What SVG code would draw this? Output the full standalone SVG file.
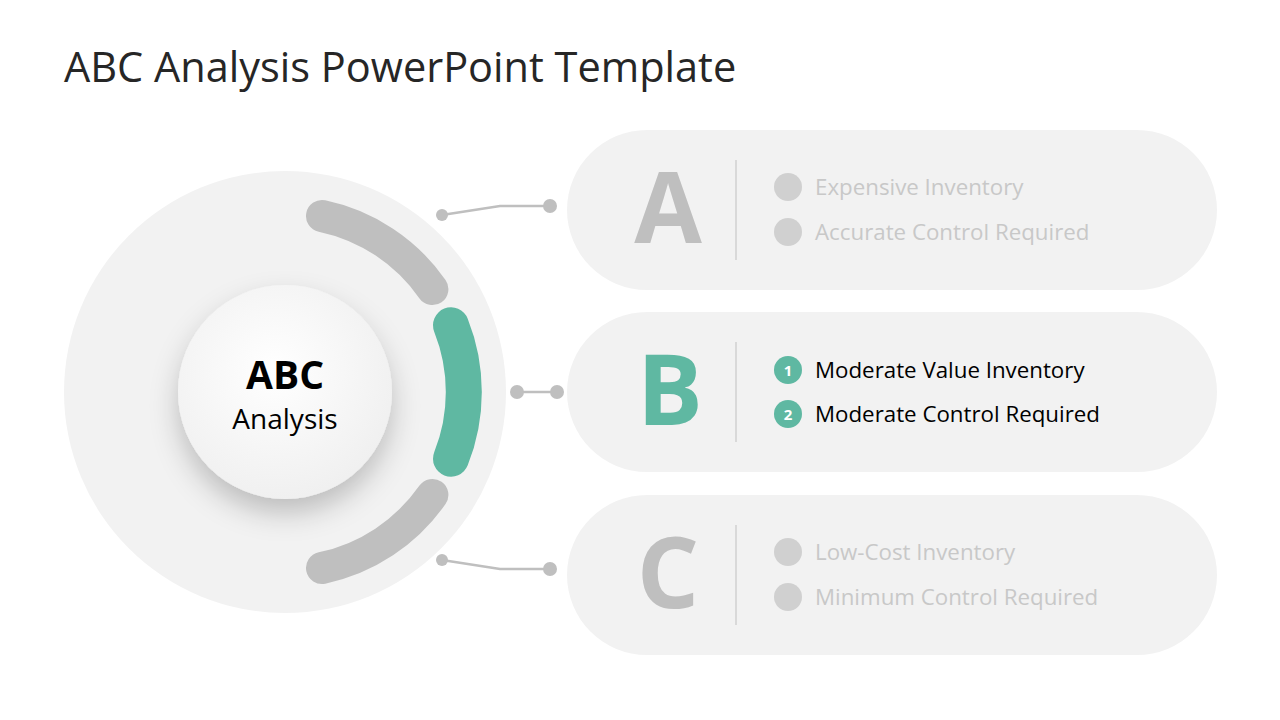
<svg xmlns="http://www.w3.org/2000/svg" width="1280" height="720" viewBox="0 0 1280 720">
<style>
text{font-family:"Open Sans","Noto Sans",sans-serif}
.pill{fill:#f2f2f2}
.arc{fill:none;stroke:#bfbfbf;stroke-width:32;stroke-linecap:round}
.conn{fill:none;stroke:#bfbfbf;stroke-width:2.5}
.dot{fill:#bfbfbf}
.div{stroke:#d0d0d0;stroke-width:1.5}
.big{font-size:98px;font-weight:bold;text-anchor:middle}
.item{font-size:22.3px}
.gray{fill:#c8c8c8}
</style>
<defs>
<filter id="sh" x="-50%" y="-50%" width="200%" height="200%">
<feDropShadow dx="0" dy="14" stdDeviation="14" flood-color="#000" flood-opacity="0.22"/>
</filter>
<radialGradient id="ig" cx="0.45" cy="0.4" r="0.6"><stop offset="0" stop-color="#ffffff"/><stop offset="1" stop-color="#f0f0f0"/></radialGradient>
</defs>
<rect width="1280" height="720" fill="#fff"/>
<text x="64" y="82" font-size="41.5" fill="#262626">ABC Analysis PowerPoint Template</text>
<g id="hub">
<circle cx="285" cy="392" r="221" fill="#f2f2f2"/>
<path class="arc" d="M322.0,216.0 A180 180 0 0 1 432.4,289.1"/>
<path class="arc" style="stroke:#5fb8a2;stroke-width:36" d="M451.0,325.3 A180 180 0 0 1 451.0,458.7"/>
<path class="arc" d="M432.4,494.9 A180 180 0 0 1 322.0,568.0"/>
<circle cx="285" cy="392" r="107" fill="url(#ig)" filter="url(#sh)"/>
<text x="285" y="389" font-size="39" font-weight="bold" text-anchor="middle" fill="#000">ABC</text>
<text x="285" y="429" font-size="28" text-anchor="middle" fill="#000">Analysis</text>
</g>
<g id="connectors">
<polyline class="conn" points="442,215 500,206 550,206"/>
<circle class="dot" cx="442" cy="215" r="6"/><circle class="dot" cx="550" cy="206" r="7"/>
<line class="conn" x1="517" y1="392" x2="557" y2="392"/>
<circle class="dot" cx="517" cy="392" r="7"/><circle class="dot" cx="557" cy="392" r="7"/>
<polyline class="conn" points="442,560 500,569 550,569"/>
<circle class="dot" cx="442" cy="560" r="6"/><circle class="dot" cx="550" cy="569" r="7"/>
</g>
<g id="nodeA">
<rect class="pill" x="567" y="130" width="650" height="160" rx="80"/>
<text class="big" x="668" y="243" fill="#bfbfbf">A</text>
<line class="div" x1="736" y1="160" x2="736" y2="260"/>
<circle cx="788" cy="187" r="14" fill="#d0d0d0"/><circle cx="788" cy="232" r="14" fill="#d0d0d0"/>
<text class="item gray" x="815" y="195">Expensive Inventory</text>
<text class="item gray" x="815" y="240">Accurate Control Required</text>
</g>
<g id="nodeB">
<rect class="pill" x="567" y="312" width="650" height="160" rx="80"/>
<text class="big" x="670" y="425" fill="#5fb8a2">B</text>
<line class="div" x1="736" y1="342" x2="736" y2="442"/>
<circle cx="788" cy="370" r="14" fill="#5fb8a2"/><circle cx="788" cy="414" r="14" fill="#5fb8a2"/>
<text x="788" y="376" font-size="15" font-weight="bold" fill="#fff" text-anchor="middle">1</text>
<text x="788" y="420" font-size="15" font-weight="bold" fill="#fff" text-anchor="middle">2</text>
<text class="item" x="815" y="378" fill="#000">Moderate Value Inventory</text>
<text class="item" x="815" y="422" fill="#000">Moderate Control Required</text>
</g>
<g id="nodeC">
<rect class="pill" x="567" y="495" width="650" height="160" rx="80"/>
<text class="big" x="668" y="608" fill="#bfbfbf">C</text>
<line class="div" x1="736" y1="525" x2="736" y2="625"/>
<circle cx="788" cy="552" r="14" fill="#d0d0d0"/><circle cx="788" cy="597" r="14" fill="#d0d0d0"/>
<text class="item gray" x="815" y="560">Low-Cost Inventory</text>
<text class="item gray" x="815" y="605">Minimum Control Required</text>
</g>
</svg>
